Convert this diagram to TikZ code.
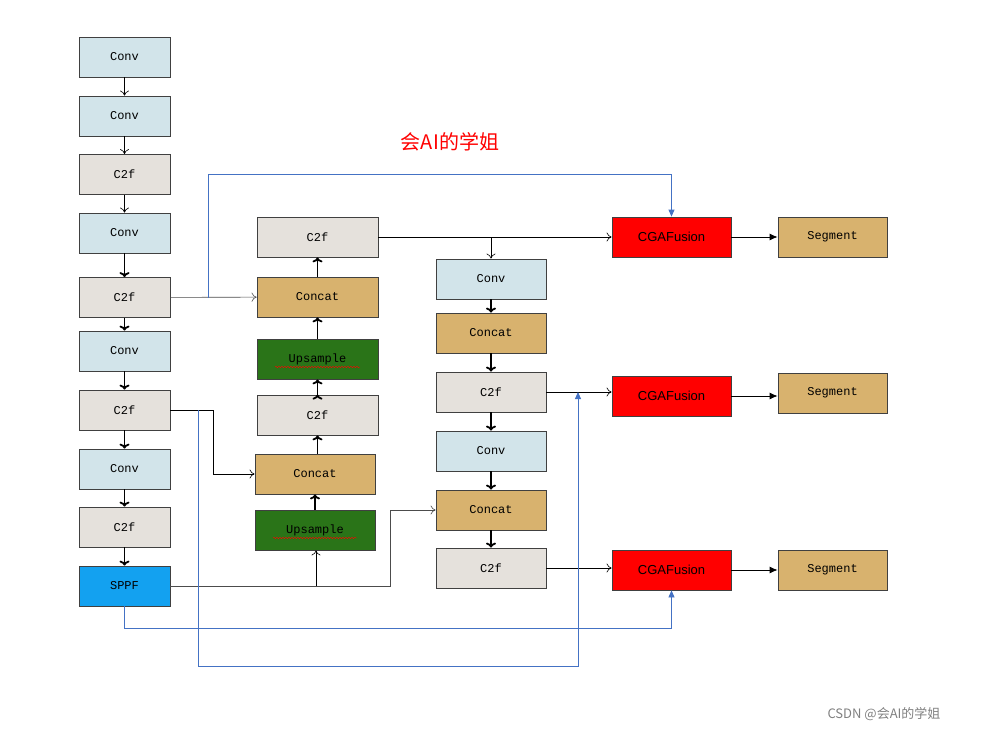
\documentclass[tikz,border=0pt]{standalone}
\usepackage{fontspec}
\setmainfont{Liberation Sans}
\newfontfamily\monof{Liberation Mono}
\newfontfamily\cjk{Noto Sans CJK SC}
\usetikzlibrary{arrows.meta,decorations.pathmorphing}
\definecolor{cconv}{HTML}{D2E4EA}
\definecolor{cctf}{HTML}{E5E1DC}
\definecolor{ccat}{HTML}{D8B26E}
\definecolor{cup}{HTML}{2A7418}
\definecolor{csppf}{HTML}{13A1F0}
\definecolor{cblue}{HTML}{4472C4}
\begin{document}
\begin{tikzpicture}[x=1pt,y=-1pt,
 box/.style={draw=black!75,line width=0.8pt,minimum height=40pt,inner sep=0pt,font=\monof\fontsize{12}{12}\selectfont},
 L/.style={box,minimum width=91pt},
 M/.style={box,minimum width=121pt},
 M2/.style={box,minimum width=120pt},
 R/.style={box,minimum width=110pt},
 G/.style={box,minimum width=119pt,fill=red,font=\fontsize{13}{13}\selectfont},
 S/.style={box,minimum width=109pt,fill=ccat},
 thin/.style={-{To[length=5pt,width=9pt]},line width=0.6pt},
 thick/.style={-{To[length=5pt,width=10pt]},line width=1.8pt},
 flat/.style={-{Latex[length=8pt,width=7pt]},line width=0.8pt},
 bl/.style={draw=cblue,line width=0.8pt},
 bla/.style={bl,-{Triangle[length=7pt,width=6pt]},cblue},
 squig/.style={red,line width=0.4pt,decorate,decoration={snake,amplitude=0.8pt,segment length=3pt}}]
\useasboundingbox (0,0) rectangle (983,733);
% left column
\node[L,fill=cconv] (l1) at (124.5,57) {Conv};
\node[L,fill=cconv] (l2) at (124.5,116) {Conv};
\node[L,fill=cctf] (l3) at (124.5,174.5) {C2f};
\node[L,fill=cconv] (l4) at (124.5,233) {Conv};
\node[L,fill=cctf] (l5) at (124.5,297.5) {C2f};
\node[L,fill=cconv] (l6) at (124.5,351) {Conv};
\node[L,fill=cctf] (l7) at (124.5,410) {C2f};
\node[L,fill=cconv] (l8) at (124.5,469) {Conv};
\node[L,fill=cctf] (l9) at (124.5,527) {C2f};
\node[L,fill=csppf] (sppf) at (124.5,586) {SPPF};
\draw[thin] (l1) -- (l2);
\draw[thin] (l2) -- (l3);
\draw[thin] (l3) -- (l4);
\draw[thick] (l4) -- (l5);
\draw[thick] (l5) -- (l6);
\draw[thick] (l6) -- (l7);
\draw[thick] (l7) -- (l8);
\draw[thick] (l8) -- (l9);
\draw[thick] (l9) -- (sppf);
% middle column
\node[M,fill=cctf] (m1) at (317.5,237) {C2f};
\node[M,fill=ccat] (m2) at (317.5,297) {Concat};
\node[M,fill=cup] (m3) at (317.5,359) {Upsample};
\node[M,fill=cctf] (m4) at (317.5,415) {C2f};
\node[M2,fill=ccat] (m5) at (315,474) {Concat};
\node[M2,fill=cup] (m6) at (315,530) {Upsample};
\draw[squig] (275,367) -- (360,367);
\draw[squig] (273,538) -- (357,538);
\draw[thick] (m2) -- (m1);
\draw[thick] (m3) -- (m2);
\draw[thick] (m4.north -| m3.south) ++(0,0) coordinate (tmp);
\draw[thick] (m4) -- (m3);
\draw[thick] (m5.north -| m4.south) -- (m4.south);
\draw[thick] (m6) -- (m5);
% right column
\node[R,fill=cconv] (r1) at (491,279) {Conv};
\node[R,fill=ccat] (r2) at (491,333) {Concat};
\node[R,fill=cctf] (r3) at (491,392) {C2f};
\node[R,fill=cconv] (r4) at (491,451) {Conv};
\node[R,fill=ccat] (r5) at (491,510) {Concat};
\node[R,fill=cctf] (r6) at (491,568) {C2f};
\draw[thick] (r1) -- (r2);
\draw[thick] (r2) -- (r3);
\draw[thick] (r3) -- (r4);
\draw[thick] (r4) -- (r5);
\draw[thick] (r5) -- (r6);
% fusion and segment
\node[G] (g1) at (671.5,237) {CGAFusion};
\node[G] (g2) at (671.5,396) {CGAFusion};
\node[G] (g3) at (671.5,570) {CGAFusion};
\draw[squig] (627,245) -- (716,245);
\draw[squig] (627,404) -- (716,404);
\draw[squig] (627,578) -- (716,578);
\node[S] (s1) at (832.5,237) {Segment};
\node[S] (s2) at (832.5,393) {Segment};
\node[S] (s3) at (832.5,570) {Segment};
\draw[flat] (g1) -- (s1);
\draw[flat] (g2.east) -- (s2.west |- g2.east);
\draw[flat] (g3) -- (s3);
% connections
\coordinate (b1) at (491,237);
\draw[thin] (m1) -- (g1);
\draw[thin] (b1) -- (r1);
\draw[thin] (r3.east) -- (g2.west |- r3.east);
\draw[thin] (r6.east) -- (g3.west |- r6.east);
\draw[thin,black!70] (l5) -- (m2);
\coordinate (k1) at (213,410);
\draw[thin] (l7.east) -- (k1) |- (m5.west);
\coordinate (k2) at (390,586);
\draw[thin,black!70] (sppf.east) -- (k2) |- (r5.west);
\coordinate (k3) at (316,586);
\draw[thin] (k3) -- (m6.south -| k3);
% blue lines
\coordinate (u1) at (208,297.5);
\draw[bla] (u1) -- (208,174) -| (g1.north);
\coordinate (u2) at (198,410);
\draw[bla] (u2) -- (198,666) -- (578,666) -- (578,392);
\draw[bla] (sppf.south) -- (124.5,628) -| (g3.south);
% texts
\node[red,font=\cjk\fontsize{20}{20}\selectfont] (title) at (450,142) {会AI的学姐};
\node[gray,font=\cjk\fontsize{13}{13}\selectfont] (wm) at (884,714) {CSDN @会AI的学姐};
\end{tikzpicture}
\end{document}
